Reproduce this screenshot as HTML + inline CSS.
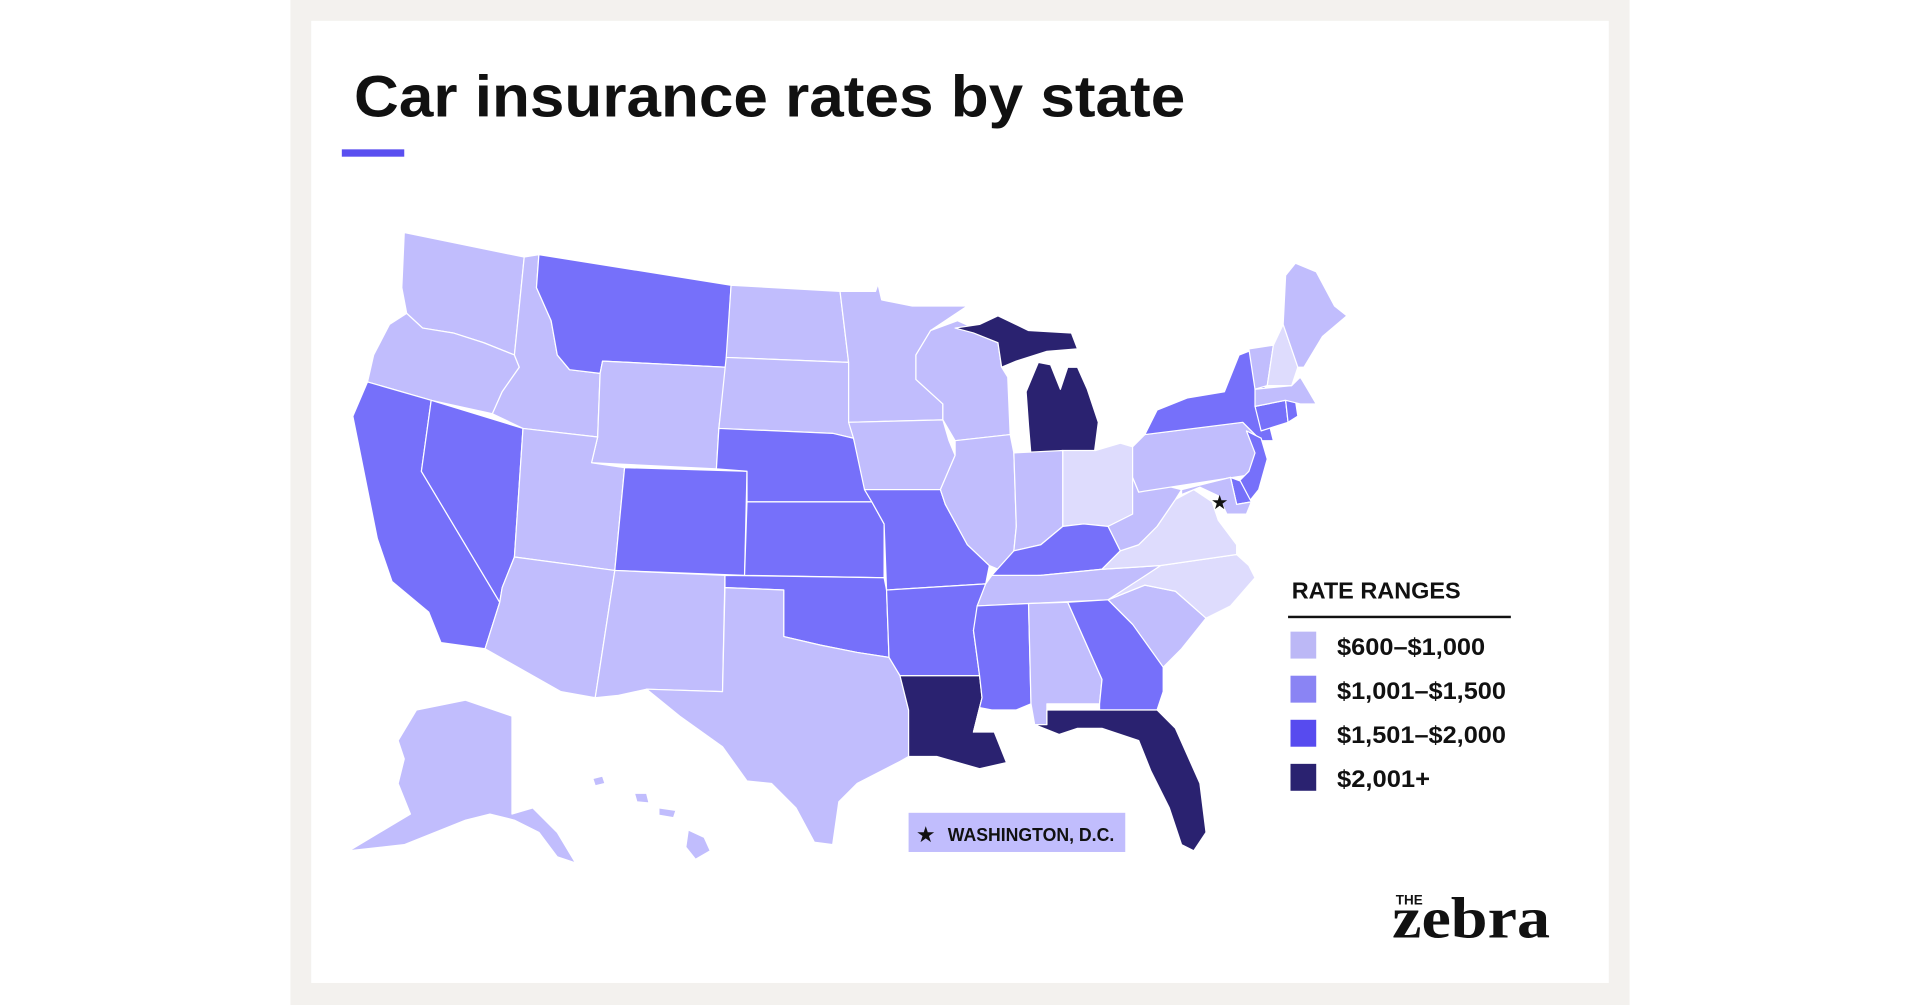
<!DOCTYPE html>
<html><head><meta charset="utf-8"><style>
html,body{margin:0;padding:0;background:#fff;}
svg{display:block;}
</style></head><body>
<svg id="chart" width="1920" height="1005" viewBox="0 0 1568 821" xmlns="http://www.w3.org/2000/svg" font-family="Liberation Sans, sans-serif">
<rect x="0" y="0" width="1568" height="821" fill="#ffffff"/>
<rect x="237" y="0" width="1094" height="821" fill="#f3f1ee"/>
<rect x="254" y="17" width="1060" height="786" fill="#ffffff"/>
<text x="289" y="95" font-size="48" font-weight="bold" fill="#111" textLength="679" lengthAdjust="spacingAndGlyphs">Car insurance rates by state</text>
<rect x="279" y="122" width="51" height="6" fill="#5a4ff0"/>
<g id="states"></g>
<g>
<text x="1055" y="489" font-size="19" font-weight="bold" fill="#111" textLength="138" lengthAdjust="spacingAndGlyphs">RATE RANGES</text>
<rect x="1052" y="503" width="182" height="2" fill="#111"/>
<g id="legend-items"></g>
</g>
<g>
<rect x="742" y="664" width="177" height="32" fill="#c1bdfd"/>
<text x="748" y="688" font-size="18" fill="#111" style="font-family:'DejaVu Sans',sans-serif">★</text>
<text x="774" y="687" font-size="15" font-weight="bold" fill="#111" textLength="136" lengthAdjust="spacingAndGlyphs">WASHINGTON, D.C.</text>
</g>
<text x="989" y="416" font-size="16" fill="#111" style="font-family:'DejaVu Sans',sans-serif">★</text>
<g>
<text x="1140" y="739" font-size="11" font-weight="bold" fill="#111">THE</text>
<text x="1137" y="766" font-size="48" font-weight="bold" fill="#111" style="font-family:'Liberation Serif',serif" textLength="129" lengthAdjust="spacingAndGlyphs">zebra</text>
</g>
</svg>
<script>
// Data: states and estimated average annual rates
const stateCodes = ["WA","OR","CA","ID","NV","MT","WY","UT","AZ","CO","NM","ND","SD","NE","KS","OK","TX","MN","IA","MO","AR","LA","WI","IL","MI","MIU","IN","OH","KY","TN","MS","AL","GA","FL","SC","NC","VA","WV","PA","NY","NJ","DE","MD","CT","RI","MA","VT","NH","ME","AK","HI1","HI2","HI3","HI4"];
const stateRates = [900,950,1700,850,1750,1600,950,950,990,1650,960,900,900,1600,1650,1700,980,950,880,1600,1620,2400,850,950,2500,2500,900,750,1700,980,1600,960,1650,2300,960,760,770,970,970,1700,1650,1600,980,1600,1600,950,900,760,880,950,900,900,900,900];
const legendLabels = ["$600–$1,000","$1,001–$1,500","$1,501–$2,000","$2,001+"];
const legendColors = ["#bcb8f6","#8a84f4","#574bef","#2a2270"];

const shapes = {
WA:"M330,190 L428,210 L420,290 L395,280 L370,272 L345,268 L332,256 L328,235 Z",
OR:"M332,256 L345,268 L370,272 L395,280 L420,290 L424,300 L410,320 L402,338 L352,327 L300,312 L305,290 L318,265 Z",
CA:"M300,312 L352,327 L344,385 L408,492 L396,530 L360,525 L350,500 L320,475 L308,440 L293,365 L288,340 Z",
ID:"M428,210 L440,208 L438,235 L450,262 L455,290 L465,302 L490,305 L488,357 L427,350 L402,338 L410,320 L424,300 L420,290 Z",
NV:"M352,327 L427,350 L420,455 L410,480 L408,492 L344,385 Z",
MT:"M440,208 L597,233 L593,300 L492,295 L490,305 L465,302 L455,290 L450,262 L438,235 Z",
WY:"M492,295 L593,300 L587,350 L585,383 L483,378 L488,357 L490,305 Z",
UT:"M427,350 L488,357 L483,378 L510,382 L502,466 L420,455 Z",
AZ:"M420,455 L502,466 L486,570 L458,565 L396,530 L408,492 L410,480 Z",
CO:"M510,382 L610,385 L608,470 L502,466 Z",
NM:"M502,466 L592,470 L590,565 L528,563 L505,568 L486,570 Z",
ND:"M597,233 L686,238 L693,296 L593,292 Z",
SD:"M593,292 L693,296 L693,340 L697,358 L680,354 L587,350 Z",
NE:"M587,350 L680,354 L697,358 L712,410 L610,410 L610,385 L585,383 Z",
KS:"M610,410 L712,410 L722,428 L722,472 L608,470 Z",
OK:"M592,470 L722,472 L724,482 L726,537 L700,533 L670,527 L640,520 L640,482 L592,480 Z",
TX:"M592,480 L640,482 L640,520 L670,527 L700,533 L726,537 L735,552 L742,580 L742,618 L735,622 L700,640 L685,655 L680,690 L665,688 L650,660 L630,640 L610,638 L590,610 L555,585 L528,563 L590,565 Z",
MN:"M686,238 L715,238 L717,232 L720,245 L745,250 L790,250 L760,270 L748,290 L748,310 L770,330 L770,343 L693,345 L693,296 Z",
IA:"M693,345 L770,343 L775,360 L780,372 L768,400 L706,400 L697,358 Z",
MO:"M706,400 L768,400 L772,412 L790,445 L808,462 L805,477 L724,482 L722,428 L712,410 Z",
AR:"M724,482 L805,477 L800,492 L795,515 L800,552 L735,552 L726,537 Z",
LA:"M735,552 L800,552 L802,570 L795,598 L812,598 L822,623 L800,628 L765,618 L742,618 L742,580 Z",
WI:"M748,290 L760,270 L782,262 L800,270 L815,280 L818,300 L823,308 L825,355 L780,360 L770,343 L770,330 L748,310 Z",
IL:"M780,360 L825,355 L828,370 L830,430 L828,450 L815,465 L808,462 L790,445 L772,412 L768,400 L780,372 Z",
MI:"M842,372 L894,368 L897,345 L888,318 L880,300 L872,300 L866,318 L858,298 L848,296 L838,320 L840,348 Z",
MIU:"M780,268 L800,265 L815,258 L840,270 L875,272 L880,285 L855,287 L830,295 L818,300 L815,280 L795,272 Z",
IN:"M828,370 L868,368 L868,430 L850,445 L828,450 L830,430 Z",
OH:"M868,368 L895,368 L915,362 L925,365 L925,420 L905,430 L885,428 L868,430 Z",
KY:"M828,450 L850,445 L868,430 L885,428 L905,430 L915,450 L900,465 L850,470 L820,472 L810,470 Z",
TN:"M805,477 L810,470 L850,470 L900,465 L948,462 L935,478 L905,490 L798,495 Z",
MS:"M798,495 L840,493 L842,575 L830,580 L810,580 L800,578 L795,598 L802,570 L800,552 L795,515 Z",
AL:"M840,493 L872,492 L900,555 L898,575 L855,575 L855,592 L845,592 L842,575 Z",
GA:"M872,492 L905,490 L925,510 L950,535 L950,565 L945,580 L898,580 L898,575 L900,555 Z",
FL:"M845,592 L855,592 L855,580 L898,580 L945,580 L960,595 L980,640 L985,680 L975,695 L965,690 L955,660 L940,630 L930,605 L900,595 L880,595 L865,600 Z",
SC:"M905,490 L935,478 L960,483 L985,505 L965,530 L950,545 L925,510 Z",
NC:"M905,490 L948,462 L1010,453 L1020,462 L1025,472 L1005,495 L985,505 L960,483 L935,478 Z",
VA:"M900,465 L915,450 L930,445 L945,430 L960,408 L975,400 L990,410 L995,425 L1010,445 L1010,453 L948,462 Z",
WV:"M905,430 L925,420 L925,390 L930,402 L945,395 L965,400 L960,408 L945,430 L930,445 L915,450 Z",
PA:"M925,365 L935,355 L1015,345 L1025,355 L1028,380 L1020,388 L930,402 L925,390 Z",
NY:"M935,355 L945,335 L970,325 L1000,320 L1012,290 L1030,283 L1032,300 L1035,340 L1040,360 L1030,360 L1020,350 L1015,345 Z",
NJ:"M1018,352 L1030,358 L1035,375 L1028,400 L1020,410 L1010,395 L1020,385 L1025,370 Z",
DE:"M1005,390 L1013,393 L1022,410 L1010,412 Z",
MD:"M965,400 L1005,390 L1010,412 L1022,410 L1018,420 L1002,420 L995,405 L980,398 L965,404 Z",
CT:"M1025,332 L1050,327 L1052,345 L1030,352 Z",
RI:"M1050,327 L1058,327 L1060,340 L1052,345 Z",
MA:"M1025,318 L1055,315 L1062,308 L1068,318 L1075,330 L1062,330 L1050,327 L1025,332 Z",
VT:"M1020,285 L1040,282 L1035,315 L1025,318 Z",
NH:"M1040,282 L1048,265 L1060,300 L1055,315 L1035,315 Z",
ME:"M1048,265 L1050,225 L1058,215 L1075,222 L1090,250 L1100,258 L1080,275 L1065,300 L1060,300 Z",
AK:"M340,580 L380,572 L418,585 L418,665 L435,660 L455,680 L470,705 L455,700 L440,680 L420,670 L400,665 L380,670 L330,690 L285,695 L310,680 L335,665 L325,640 L330,620 L325,605 Z",
HI1:"M484,636 L492,634 L494,640 L486,642 Z",
HI2:"M518,648 L528,648 L530,656 L520,655 Z",
HI3:"M538,660 L552,662 L550,668 L538,666 Z",
HI4:"M562,678 L575,684 L580,695 L568,702 L560,692 Z"
};

function rateColor(v){
  if (v > 2000) return "#2a2270";
  if (v > 1500) return "#7670fa";
  if (v > 800) return "#c1bdfd";
  return "#dedcfd";
}
const NS = "http://www.w3.org/2000/svg";
const g = document.getElementById("states");
stateCodes.forEach((code, i) => {
  const p = document.createElementNS(NS, "path");
  p.setAttribute("d", shapes[code]);
  p.setAttribute("fill", rateColor(stateRates[i]));
  p.setAttribute("stroke", "#ffffff");
  p.setAttribute("stroke-width", "1");
  p.setAttribute("stroke-linejoin", "round");
  
  
  g.appendChild(p);
});
const legendWidths = [121, 138, 138, 76];
const lg = document.getElementById("legend-items");
legendLabels.forEach((lab, i) => {
  const y = 516 + i * 36;
  const r = document.createElementNS(NS, "rect");
  r.setAttribute("x", 1054); r.setAttribute("y", y);
  r.setAttribute("width", 21); r.setAttribute("height", 22);
  r.setAttribute("fill", legendColors[i]);
  
  
  lg.appendChild(r);
  const t = document.createElementNS(NS, "text");
  t.setAttribute("x", 1092); t.setAttribute("y", y + 19);
  t.setAttribute("font-size", "20"); t.setAttribute("font-weight", "bold");
  t.setAttribute("fill", "#111");
  t.setAttribute("textLength", legendWidths[i]);
  t.setAttribute("lengthAdjust", "spacingAndGlyphs");
  t.textContent = lab;
  
  
  lg.appendChild(t);
});
</script>
</body></html>
